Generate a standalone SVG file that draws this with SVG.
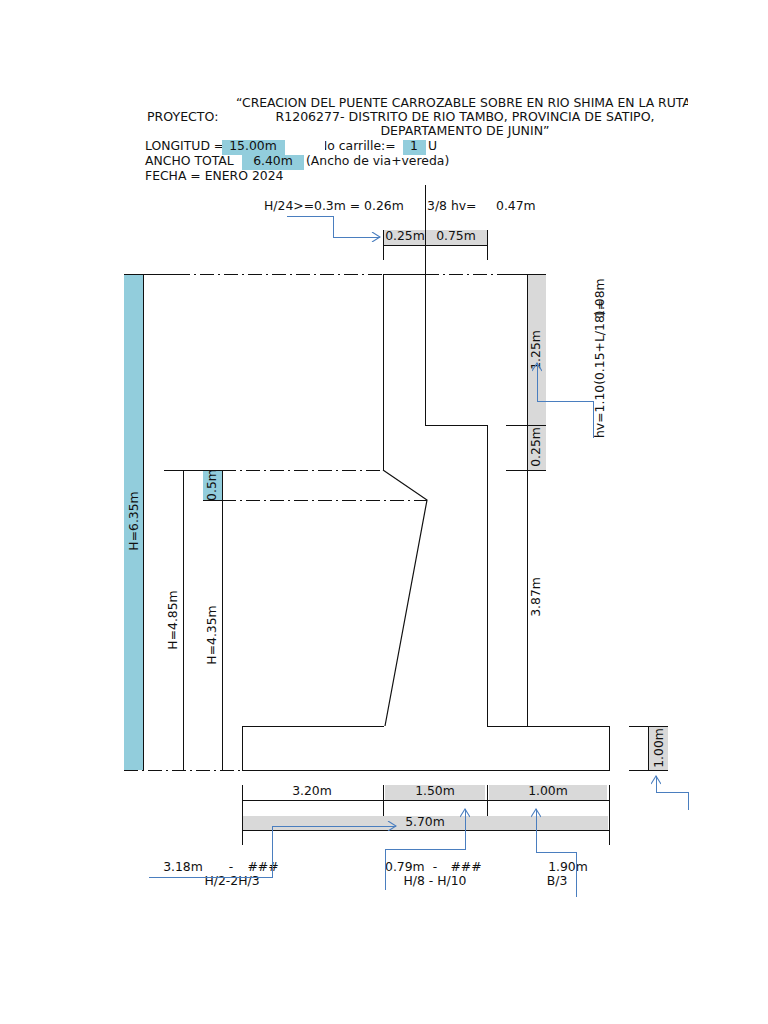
<svg xmlns="http://www.w3.org/2000/svg" width="768" height="1024" viewBox="0 0 768 1024">
<style>
text{font-family:"DejaVu Sans",sans-serif;font-size:12.4px;fill:#111}
.m{text-anchor:middle}
.t{font-size:12.55px}
.l{stroke:#111;stroke-width:1;fill:none;shape-rendering:crispEdges}
.s{stroke:#111;stroke-width:1.2;fill:none}
.d{stroke:#111;stroke-width:1;fill:none;stroke-dasharray:14 4 2 4;shape-rendering:crispEdges}
.c{stroke:#4a7ebf;stroke-width:1;fill:none;shape-rendering:crispEdges}
.b{fill:#92cddc}
.g{fill:#d9d9d9}
</style>
<defs>
<clipPath id="titleClip"><rect x="200" y="90" width="488" height="20"/></clipPath>
<clipPath id="laneClip"><rect x="325" y="138" width="56" height="16"/></clipPath>
<clipPath id="lenClip"><rect x="140" y="138" width="82" height="16"/></clipPath>
<marker id="arr" viewBox="0 0 10 10" refX="9" refY="5" markerWidth="10" markerHeight="10" orient="auto" markerUnits="userSpaceOnUse"><path d="M1 0L9 5L1 10" fill="none" stroke="#4a7ebf" stroke-width="1.1"/></marker>
</defs>
<g id="fills">
<rect class="b" x="124" y="274" width="19" height="496"/>
<rect class="b" x="203" y="470" width="19" height="30"/>
<rect class="g" x="527" y="274" width="19" height="196"/>
<rect class="g" x="648" y="726" width="20" height="44"/>
<rect class="g" x="384" y="230" width="103" height="15"/>
<rect class="g" x="385" y="785" width="100" height="15"/>
<rect class="g" x="489" y="785" width="118" height="15"/>
<rect class="g" x="243" y="816" width="365" height="14"/>
<rect class="b" x="222" y="140" width="63" height="15"/>
<rect class="b" x="403" y="140" width="23" height="15"/>
<rect class="b" x="242" y="155" width="62" height="15"/>
</g>
<g id="header">
<text clip-path="url(#titleClip)" x="236" y="107">“CREACION DEL PUENTE CARROZABLE SOBRE EN RIO SHIMA EN LA RUTA</text>
<text class="m t" x="465" y="121">R1206277- DISTRITO DE RIO TAMBO, PROVINCIA DE SATIPO,</text>
<text class="m t" x="465" y="135">DEPARTAMENTO DE JUNIN”</text>
<text class="t" x="147" y="121">PROYECTO:</text>
<text clip-path="url(#lenClip)" x="145" y="150">LONGITUD =</text>
<text class="m" x="253" y="150">15.00m</text>
<text clip-path="url(#laneClip)" x="318" y="150">No carrille</text>
<text x="381" y="150">:=</text>
<text class="m" x="414" y="150">1</text>
<text x="428" y="150">U</text>
<text x="145" y="165">ANCHO TOTAL</text>
<text class="m" x="273" y="165">6.40m</text>
<text x="306" y="165">(Ancho de via+vereda)</text>
<text x="145" y="180">FECHA = ENERO 2024</text>
</g>
<g id="wall">
<path class="l" d="M425 185V425H487V726H609V770H242V726H384"/>
<path class="l" d="M383 274V470"/>
<path class="s" d="M383 470L427 500L385 726"/>
</g>
<g id="dimensions">
<path class="l" d="M124 274H176M383 274H425M505 274H546"/>
<path class="d" d="M176 274H383M425 274H505"/>
<path class="l" d="M143 274V770M183 470V770M222 470V770M527 274V726"/>
<path class="l" d="M164 470H222M506 425H546M506 470H546"/>
<path class="d" d="M222 470H383M222 500H427"/>
<path class="l" d="M203 500H222"/>
<path class="d" d="M124 770H242"/>
<path class="l" d="M383 230V260M487 230V260M383 245H487"/>
<path class="l" d="M629 726H668M629 770H668M648 726V770"/>
<path class="l" d="M242 785V845M383 785V816M487 785V816M609 785V845M242 800H609M242 830H609"/>
</g>
<g id="labels">
<text x="264" y="210">H/24&gt;=0.3m = 0.26m</text>
<text x="427" y="210">3/8 hv=</text>
<text x="496" y="210">0.47m</text>
<text class="m" x="405" y="240">0.25m</text>
<text class="m" x="456" y="240">0.75m</text>
<text class="m" transform="translate(138 521) rotate(-90)">H=6.35m</text>
<text class="m" transform="translate(177 620) rotate(-90)">H=4.85m</text>
<text class="m" transform="translate(216 635) rotate(-90)">H=4.35m</text>
<text class="m" transform="translate(216 485) rotate(-90)">0.5m</text>
<text class="m" transform="translate(540 350) rotate(-90)">1.25m</text>
<text class="m" transform="translate(540 447) rotate(-90)">0.25m</text>
<text class="m" transform="translate(540 597) rotate(-90)">3.87m</text>
<text class="m" transform="translate(663 748) rotate(-90)">1.00m</text>
<text transform="translate(604 438) rotate(-90)">hv=1.10(0.15+L/18)=</text>
<text transform="translate(604 318) rotate(-90)">1.08m</text>
<text class="m" x="312" y="795">3.20m</text>
<text class="m" x="435" y="795">1.50m</text>
<text class="m" x="548" y="795">1.00m</text>
<text class="m" x="425" y="826">5.70m</text>
<text class="m" x="183" y="871">3.18m</text>
<text x="231" y="871" class="m">-</text>
<text class="m" x="263" y="871">###</text>
<text class="m" x="232" y="885">H/2-2H/3</text>
<text x="385" y="871">0.79m</text>
<text class="m" x="435" y="871">-</text>
<text class="m" x="466" y="871">###</text>
<text class="m" x="435" y="885">H/8 - H/10</text>
<text class="m" x="568" y="871">1.90m</text>
<text class="m" x="557" y="885">B/3</text>
</g>
<g id="connectors">
<path class="c" marker-end="url(#arr)" d="M287 216H333V237H380"/>
<path class="c" marker-end="url(#arr)" d="M593 438V401H537V363"/>
<path class="c" marker-end="url(#arr)" d="M149 877H272V826H396"/>
<path class="c" marker-end="url(#arr)" d="M385 890V849H465V809"/>
<path class="c" marker-end="url(#arr)" d="M576 897V852H536V809"/>
<path class="c" marker-end="url(#arr)" d="M688 810V792H656V776"/>
</g>
</svg>
